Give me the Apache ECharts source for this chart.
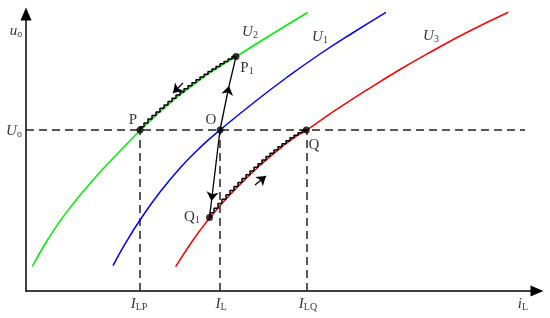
<!DOCTYPE html>
<html>
<head>
<meta charset="utf-8">
<script src="https://cdn.jsdelivr.net/npm/echarts@6/dist/echarts.min.js"></script>
<style>
  html, body { margin: 0; padding: 0; background: #fff; }
  #chart { width: 550px; height: 318px; }
</style>
</head>
<body>
<div id="chart"></div>
<script>
// 曲线数据（横轴 i_L，纵轴 u_o，单位为读图的任意单位）
var curveU2 = [[6.3,24.5],[19,47],[32.3,67.5],[45.7,85.5],[65.7,109.5],[85.7,131.3],[114,160.5],[126,171.9],[138,182.7],[150,192.8],[162,202.3],[174,211.2],[186,219.5],[198,227.2],[210,234.4],[247,257.5],[281.7,278.5]];
var curveU1 = [[87,25.3],[99.8,48.3],[114,71],[134,99],[154,123],[174,143.4],[194,161],[227.3,188],[260.7,213.5],[294,237],[327.3,258.5],[360,278.7]];
var curveU3 = [[149.6,24.3],[164,46.5],[174,60.5],[184,73.5],[196,87.5],[208,100.5],[220,112.5],[232,123.8],[244,134.4],[256,144.2],[268,153.2],[280.3,160.7],[307.3,179.3],[340.7,201],[374,221.5],[407.3,240.5],[440.7,258.5],[482.3,278.7]];

// 阶梯（P1 -> P 沿 U2，Q1 -> Q 沿 U3）
var stairP = [[114,160.5],[118,164.3],[122,168.1],[126,171.9],[130,175.5],[134,179.1],[138,182.7],[142,186.1],[146,189.4],[150,192.8],[154,196],[158,199.1],[162,202.3],[166,205.3],[170,208.2],[174,211.2],[178,214],[182,216.7],[186,219.5],[190,222.1],[194,224.6],[198,227.2],[202,229.6],[206,232],[210,234.4]];
var stairQ = [[184,73.5],[188,78.2],[192,82.8],[196,87.5],[200,91.8],[204,96.2],[208,100.5],[212,104.5],[216,108.5],[220,112.5],[224,116.3],[228,120],[232,123.8],[236,127.3],[240,130.9],[244,134.4],[248,137.7],[252,141],[256,144.2],[260,147.2],[264,150.2],[268,153.2],[272,155.7],[276,158.2],[280.3,160.7]];

// 关键点 P, O, Q, P1, Q1
var pointP = [114, 161];
var pointO = [194, 161];
var pointQ = [280.3, 161];
var pointP1 = [210, 234.4];
var pointQ1 = [183.5, 73.5];
var levelUo = 161;
var dashEndX = 499;

// 箭头
var arrowUpMid = [203, 205];
var arrowDownTip = [185.5, 90];
var arrowStairP = [[157, 208], [147, 198]];
var arrowStairQ = [[229, 106], [240, 115]];

// 文字标注
var labelItems = [
    [-10, 261, '{i|u}{s|o}'],
    [-12, 161, '{i|U}{s|o}'],
    [107, 172, '{n|P}'],
    [185, 172, '{n|O}'],
    [221, 224, '{n|P}{s|1}'],
    [288, 147, '{n|Q}'],
    [166, 75, '{n|Q}{s|1}'],
    [224, 260, '{i|U}{s|2}'],
    [294, 255, '{i|U}{s|1}'],
    [405, 256, '{i|U}{s|3}'],
    [113, -12, '{i|I}{s|LP}'],
    [195, -12, '{i|I}{s|L}'],
    [282, -12, '{i|I}{s|LQ}'],
    [497, -12, '{i|i}{s|L}']
];

var chart = echarts.init(document.getElementById('chart'));

var dashStyle = { color: '#222', width: 1.5, type: [8, 5], opacity: 1 };
var dashLines = [
    { coords: [[0, levelUo], [dashEndX, levelUo]] },
    { coords: [[pointP[0], 0], [pointP[0], levelUo]] },
    { coords: [[pointO[0], 0], [pointO[0], levelUo]] },
    { coords: [[pointQ[0], 0], [pointQ[0], levelUo]] }
];

var serif = 'Liberation Serif';
var rich = {
    i: { fontFamily: serif, fontStyle: 'italic', fontSize: 15, lineHeight: 18, color: '#000', verticalAlign: 'bottom' },
    n: { fontFamily: serif, fontSize: 15, lineHeight: 18, color: '#000', verticalAlign: 'bottom' },
    s: { fontFamily: serif, fontSize: 10, lineHeight: 12, color: '#000', verticalAlign: 'bottom' }
};

option = {
    animation: false,
    grid: { left: 26, right: 13, top: 14, bottom: 27, containLabel: false },
    xAxis: {
        type: 'value', min: 0, max: 511,
        axisLine: { show: true, lineStyle: { color: '#000', width: 1.5 }, symbol: ['none', 'triangle'], symbolSize: [11, 13] },
        axisTick: { show: false }, axisLabel: { show: false }, splitLine: { show: false }
    },
    yAxis: {
        type: 'value', min: 0, max: 277,
        axisLine: { show: true, lineStyle: { color: '#000', width: 1.5 }, symbol: ['none', 'triangle'], symbolSize: [11, 13] },
        axisTick: { show: false }, axisLabel: { show: false }, splitLine: { show: false }
    },
    series: [
        {
            type: 'lines', coordinateSystem: 'cartesian2d', silent: true,
            lineStyle: dashStyle, symbol: 'none', data: dashLines, z: 1
        },
        { type: 'line', data: curveU2, smooth: true, showSymbol: false, clip: false, lineStyle: { color: '#00ee00', width: 1.5 }, z: 2 },
        { type: 'line', data: curveU1, smooth: true, showSymbol: false, clip: false, lineStyle: { color: '#0000ff', width: 1.5 }, z: 2 },
        { type: 'line', data: curveU3, smooth: true, showSymbol: false, clip: false, lineStyle: { color: '#ff0000', width: 1.5 }, z: 2 },
        { type: 'line', data: stairP, step: 'start', showSymbol: false, lineStyle: { color: '#000', width: 1.5 }, z: 3 },
        { type: 'line', data: stairQ, step: 'start', showSymbol: false, lineStyle: { color: '#000', width: 1.5 }, z: 3 },
        {
            type: 'lines', coordinateSystem: 'cartesian2d', silent: true,
            lineStyle: { color: '#000', width: 1.3, opacity: 1 }, symbol: 'none',
            data: [
                { coords: [arrowUpMid, pointP1] },
                { coords: [arrowDownTip, pointQ1] }
            ], z: 4
        },
        {
            type: 'lines', coordinateSystem: 'cartesian2d', silent: true,
            lineStyle: { color: '#000', width: 1.3, opacity: 1 }, symbol: ['none', 'arrow'], symbolSize: 9,
            data: [
                { coords: [pointO, arrowUpMid] },
                { coords: [pointO, arrowDownTip] },
                { coords: arrowStairP },
                { coords: arrowStairQ }
            ], z: 4
        },
        {
            type: 'scatter', data: [pointP, pointO, pointQ, pointP1, pointQ1],
            symbolSize: 7, itemStyle: { color: '#000' }, z: 5
        },
        {
            type: 'scatter', silent: true, clip: false, symbolSize: 0,
            data: labelItems,
            label: {
                show: true, position: 'inside', align: 'center', verticalAlign: 'middle',
                formatter: function (p) { return p.data[2]; },
                rich: rich
            },
            z: 6
        }
    ]
};

chart.setOption(option);
</script>
</body>
</html>
